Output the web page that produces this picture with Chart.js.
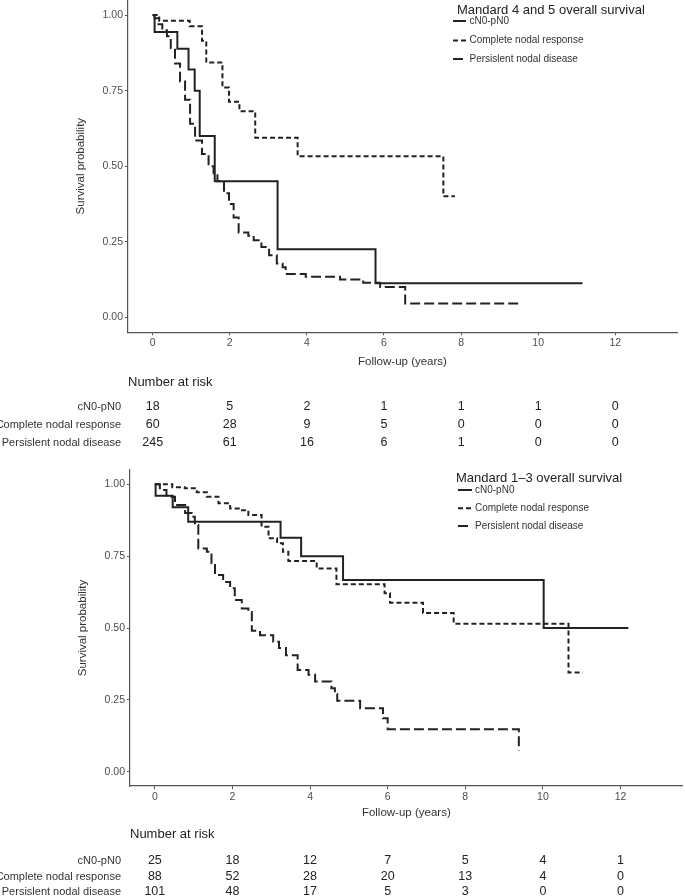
<!DOCTYPE html>
<html>
<head>
<meta charset="utf-8">
<script src="https://cdn.jsdelivr.net/npm/chart.js@4.4.1/dist/chart.umd.min.js"></script>
<style>
  body { margin: 0; background: #fff; width: 685px; height: 896px; overflow: hidden; position: relative; }
  canvas { position: absolute; left: 0; }
</style>
</head>
<body>
<canvas id="grafTopo" width="685" height="455" style="top:0"></canvas>
<canvas id="grafBaixo" width="685" height="440" style="top:456px"></canvas>
<script>
const FONTE = '"Liberation Sans", Arial, Helvetica, sans-serif';

const xTicks = [0, 2, 4, 6, 8, 10, 12];
const yTicks = [0, 0.25, 0.5, 0.75, 1];
const grupos = ['cN0-pN0', 'Complete nodal response', 'Persislent nodal disease'];

// Mandard 4 and 5
const m45Cn0Tempo = [0, 0.05, 0.64, 0.93, 1.09, 1.22, 1.61, 3.24, 5.78, 11.15];
const m45Cn0Sobrev = [1, 0.944, 0.889, 0.82, 0.75, 0.60, 0.45, 0.225, 0.112, 0.112];
const m45CompTempo = [0, 0.17, 0.96, 1.28, 1.39, 1.81, 1.98, 2.25, 2.66, 3.76, 7.54, 7.84];
const m45CompSobrev = [1, 0.981, 0.963, 0.915, 0.843, 0.76, 0.713, 0.682, 0.594, 0.533, 0.40, 0.40];
const m45PersTempo = [0, 0.05, 0.15, 0.25, 0.37, 0.47, 0.58, 0.71, 0.84, 0.97, 1.10, 1.28, 1.45, 1.58, 1.68, 1.85, 1.98, 2.10, 2.23, 2.48, 2.62, 2.82, 3.02, 3.22, 3.37, 3.45, 3.97, 4.86, 5.46, 5.90, 6.55, 9.52];
const m45PersSobrev = [1, 0.99, 0.97, 0.95, 0.93, 0.89, 0.84, 0.78, 0.72, 0.64, 0.585, 0.54, 0.50, 0.47, 0.45, 0.41, 0.375, 0.33, 0.28, 0.27, 0.255, 0.232, 0.205, 0.178, 0.165, 0.143, 0.134, 0.125, 0.114, 0.10, 0.045, 0.045];
const m45RiscoCn0 = [18, 5, 2, 1, 1, 1, 0];
const m45RiscoComp = [60, 28, 9, 5, 0, 0, 0];
const m45RiscoPers = [245, 61, 16, 6, 1, 0, 0];

// Mandard 1-3
const m13Cn0Tempo = [0, 0.02, 0.46, 0.86, 3.24, 3.77, 4.85, 10.02, 12.2];
const m13Cn0Sobrev = [1, 0.96, 0.92, 0.87, 0.814, 0.75, 0.667, 0.5, 0.5];
const m13CompTempo = [0, 0.45, 0.77, 1.08, 1.34, 1.64, 1.94, 2.19, 2.41, 2.75, 2.93, 3.15, 3.30, 3.44, 4.17, 4.68, 5.92, 6.06, 6.91, 7.70, 10.66, 11.03];
const m13CompSobrev = [1, 0.99, 0.986, 0.972, 0.957, 0.934, 0.916, 0.91, 0.893, 0.852, 0.812, 0.795, 0.765, 0.733, 0.707, 0.652, 0.621, 0.588, 0.552, 0.515, 0.345, 0.345];
const m13PersTempo = [0, 0.13, 0.30, 0.52, 0.78, 0.95, 1.03, 1.12, 1.34, 1.46, 1.55, 1.76, 1.94, 2.06, 2.24, 2.41, 2.50, 2.71, 3.05, 3.20, 3.38, 3.68, 3.96, 4.13, 4.55, 4.64, 4.70, 5.29, 5.88, 6.00, 9.38];
const m13PersSobrev = [1, 0.98, 0.957, 0.928, 0.90, 0.887, 0.858, 0.777, 0.765, 0.725, 0.684, 0.66, 0.638, 0.597, 0.568, 0.556, 0.49, 0.475, 0.452, 0.43, 0.405, 0.354, 0.337, 0.314, 0.29, 0.27, 0.247, 0.221, 0.186, 0.148, 0.073];
const m13RiscoCn0 = [25, 18, 12, 7, 5, 4, 1];
const m13RiscoComp = [88, 52, 28, 20, 13, 4, 0];
const m13RiscoPers = [101, 48, 17, 5, 3, 0, 0];

const tracos = [[], [5, 3], [10, 4]];

function pontos(tempos, sobrev) {
  return tempos.map((t, i) => ({ x: t, y: sobrev[i] }));
}

// legenda dentro do grafico + tabela "Number at risk"
const extrasKM = {
  id: 'extrasKM',
  afterDraw(chart, args, o) {
    const ctx = chart.ctx;
    const x = chart.scales.x;
    ctx.save();
    ctx.textBaseline = 'middle';
    ctx.textAlign = 'left';
    ctx.fillStyle = '#222';
    ctx.font = '13px ' + FONTE;
    ctx.fillText(o.titulo, o.tituloX, o.tituloY);
    chart.data.datasets.forEach((ds, i) => {
      const y = o.legY[i];
      ctx.beginPath();
      ctx.setLineDash(ds.borderDash);
      ctx.lineWidth = 2;
      ctx.strokeStyle = ds.borderColor;
      ctx.moveTo(o.linhaX[0], y);
      ctx.lineTo(o.linhaX[1], y);
      ctx.stroke();
      ctx.setLineDash([]);
      ctx.font = '10px ' + FONTE;
      ctx.fillStyle = '#333';
      ctx.fillText(ds.label, o.textoX, y);
    });

    ctx.font = '13px ' + FONTE;
    ctx.fillStyle = '#222';
    ctx.fillText('Number at risk', chart.chartArea.left, o.tabelaY[0]);
    o.risco.forEach((linha, r) => {
      const y = o.tabelaY[r + 1];
      ctx.textAlign = 'right';
      ctx.font = '11px ' + FONTE;
      ctx.fillStyle = '#333';
      ctx.fillText(grupos[r], o.rotuloX, y);
      ctx.textAlign = 'center';
      ctx.font = '12.5px ' + FONTE;
      ctx.fillStyle = '#222';
      linha.forEach((n, k) => ctx.fillText(String(n), x.getPixelForValue(xTicks[k]), y));
    });
    ctx.restore();
  }
};

function criarGrafico(id, series, pad, alturaX, extras) {
  new Chart(document.getElementById(id), {
    type: 'line',
    data: {
      datasets: series.map((s, i) => ({
        label: grupos[i],
        data: pontos(s[0], s[1]),
        stepped: 'before',   // horizontal primeiro, depois cai (curva KM)
        borderColor: '#222',
        borderWidth: 2,
        borderDash: tracos[i],
        pointRadius: 0,
        fill: false
      }))
    },
    options: {
      responsive: false,
      animation: false,
      layout: { padding: pad },
      plugins: { legend: { display: false }, tooltip: { enabled: false }, extrasKM: extras },
      scales: {
        x: {
          type: 'linear',
          min: -0.64,
          max: 13.6,
          afterBuildTicks: s => { s.ticks = xTicks.map(v => ({ value: v })); },
          afterFit: s => { s.height = alturaX; },
          ticks: { autoSkip: false, maxRotation: 0, padding: 2, color: '#4d4d4d', font: { size: 10.5 }, callback: v => v },
          grid: { drawOnChartArea: false, drawTicks: true, tickLength: 3, tickColor: '#555' },
          border: { display: true, color: '#555', width: 1.2 },
          title: { display: true, text: 'Follow-up (years)', color: '#333', font: { size: 11.5 }, padding: 0 }
        },
        y: {
          min: -0.05,
          max: 1.05,
          afterBuildTicks: s => { s.ticks = yTicks.map(v => ({ value: v })); },
          afterFit: s => { s.width = 54; s.paddingTop = 0; s.paddingBottom = 0; },
          ticks: { padding: 2, color: '#4d4d4d', font: { size: 10.5 }, callback: v => v.toFixed(2) },
          grid: { drawOnChartArea: false, drawTicks: true, tickLength: 3, tickColor: '#555' },
          border: { display: true, color: '#555', width: 1.2 },
          title: { display: true, text: 'Survival probability', color: '#333', font: { size: 11.5 }, padding: 0 }
        }
      }
    },
    plugins: [extrasKM]
  });
}

Chart.defaults.font.family = FONTE;

criarGrafico('grafTopo',
  [[m45Cn0Tempo, m45Cn0Sobrev], [m45CompTempo, m45CompSobrev], [m45PersTempo, m45PersSobrev]],
  { left: 74, right: 8, top: 0, bottom: 86.7 }, 36,
  {
    titulo: 'Mandard 4 and 5 overall survival', tituloX: 457, tituloY: 10,
    linhaX: [453, 466], textoX: 469.5, legY: [21, 40.5, 59],
    tabelaY: [382, 407, 425, 443], rotuloX: 121,
    risco: [m45RiscoCn0, m45RiscoComp, m45RiscoPers]
  });

criarGrafico('grafBaixo',
  [[m13Cn0Tempo, m13Cn0Sobrev], [m13CompTempo, m13CompSobrev], [m13PersTempo, m13PersSobrev]],
  { left: 76, right: 2.4, top: 13.9, bottom: 76.7 }, 33.2,
  {
    titulo: 'Mandard 1\u20133 overall survival', tituloX: 456, tituloY: 22,
    linhaX: [458, 472], textoX: 475, legY: [34, 52.3, 70],
    tabelaY: [378, 405, 421, 436], rotuloX: 121,
    risco: [m13RiscoCn0, m13RiscoComp, m13RiscoPers]
  });
</script>
</body>
</html>
